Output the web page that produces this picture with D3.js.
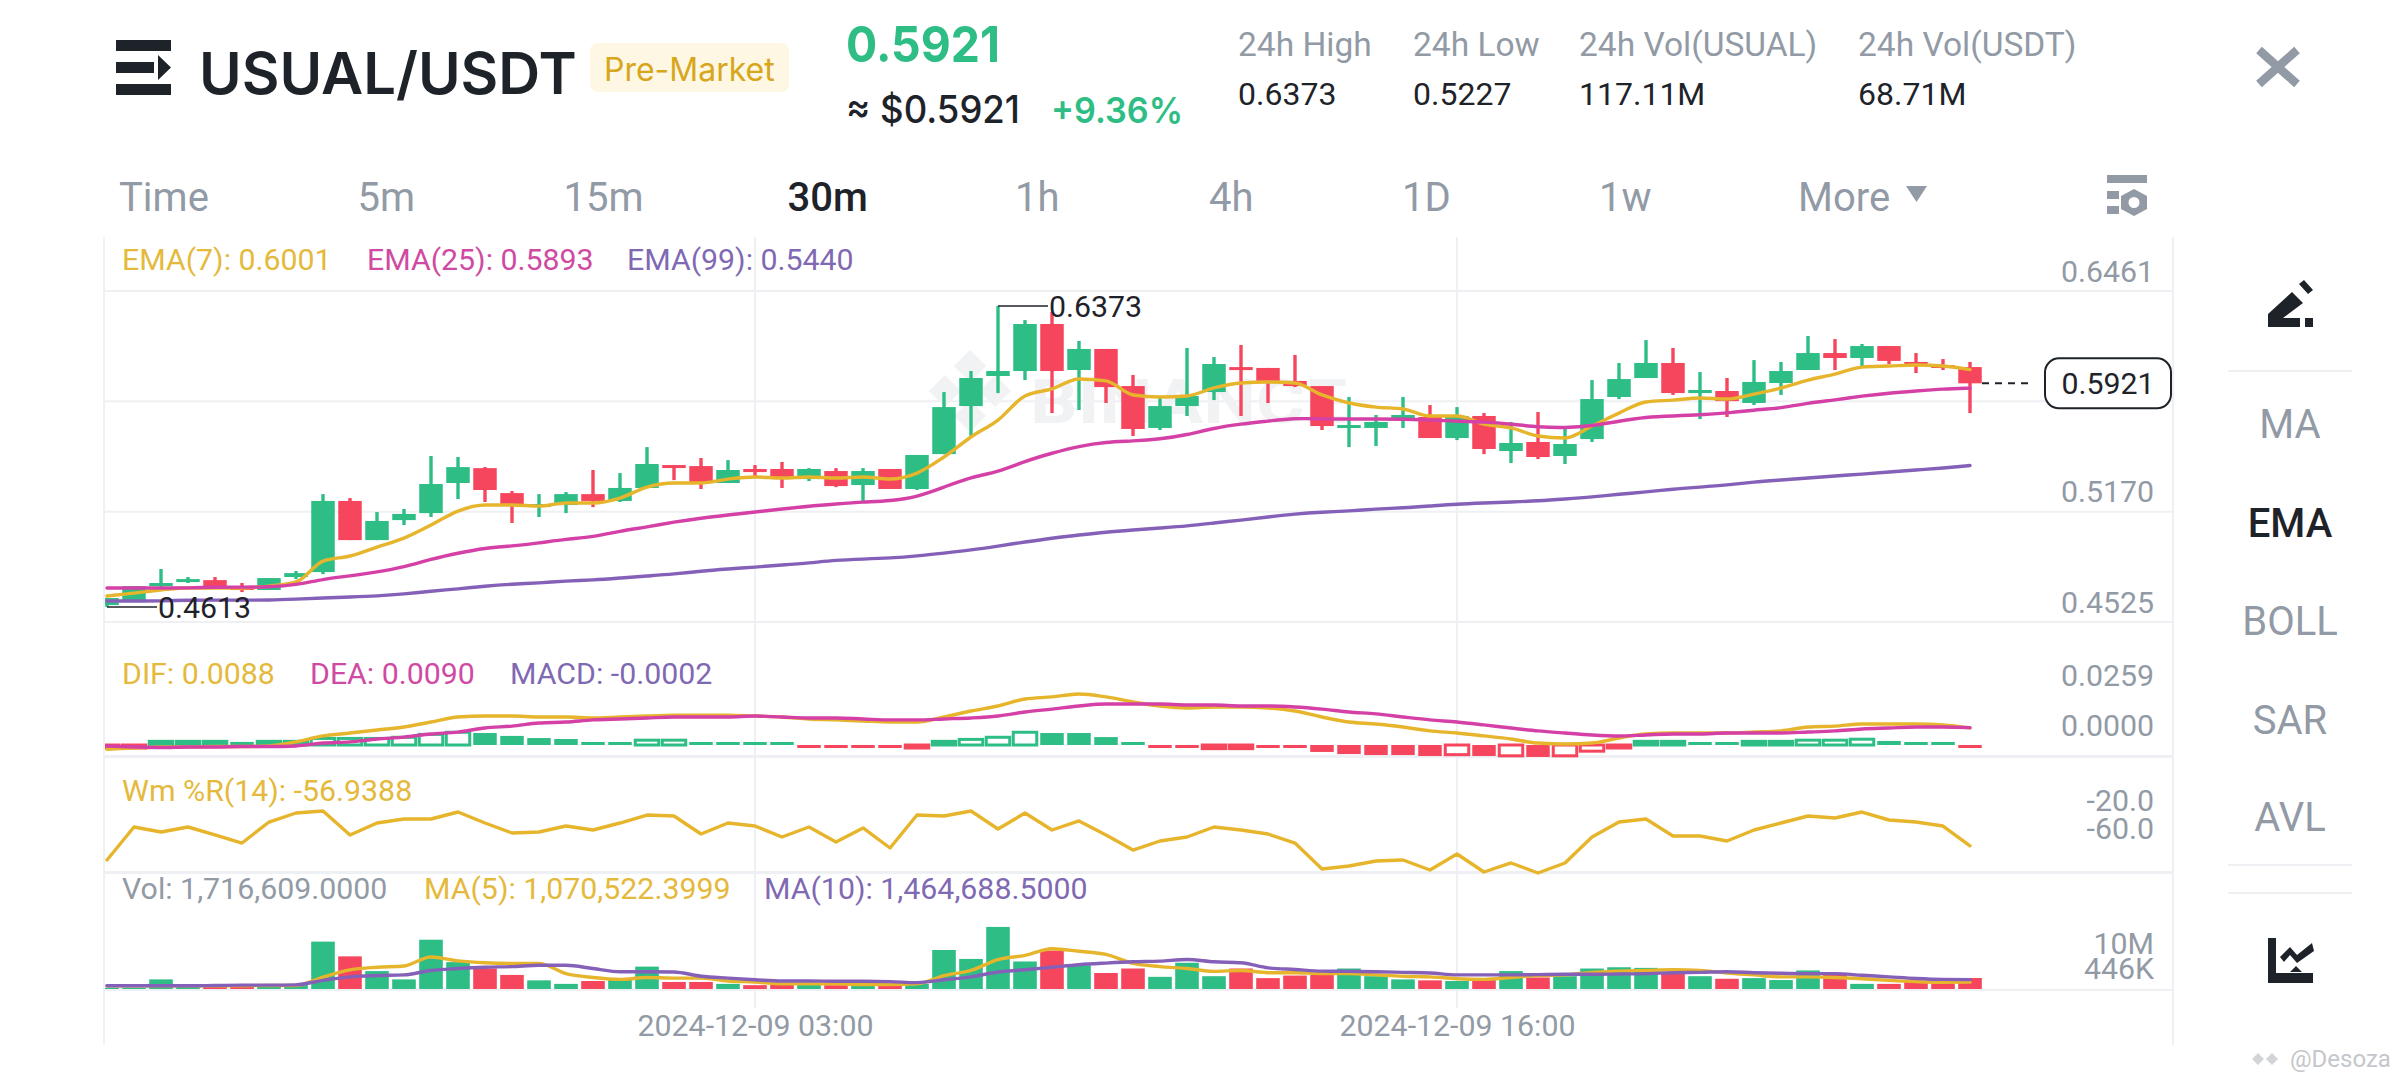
<!DOCTYPE html>
<html>
<head>
<meta charset="utf-8">
<title>USUAL/USDT</title>
<script src="https://cdn.jsdelivr.net/npm/d3@7/dist/d3.min.js"></script>
<style>
  html, body { margin: 0; padding: 0; background: #fff; }
  svg { display: block; }
  text { font-family: Roboto, "Noto Sans", sans-serif; }
  .plex { font-family: Inter, Roboto, sans-serif; }
</style>
</head>
<body>
<svg id="chart" width="2400" height="1080"></svg>
<script>
// 30-minute candles, oldest first
const open  = [.4624,.4653,.4735,.4759,.4770,.4735,.4712,.4788,.4817,.5233,.5004,.5121,.5162,.5338,.5425,.5279,.5203,.5209,.5273,.5233,.5309,.5443,.5437,.5338,.5420,.5420,.5361,.5408,.5326,.5420,.5303,.5507,.5788,.5964,.5993,.6268,.5999,.6122,.5905,.5660,.5788,.5870,.6016,.6011,.5935,.5905,.5660,.5660,.5718,.5724,.5601,.5730,.5525,.5578,.5496,.5595,.5841,.5952,.6040,.5864,.5876,.5806,.5923,.5999,.6098,.6069,.6139,.6046,.6028,.6016];
const high  = [.4665,.4735,.4835,.4788,.4788,.4753,.4782,.4823,.5273,.5250,.5168,.5186,.5496,.5490,.5431,.5291,.5273,.5285,.5414,.5396,.5548,.5443,.5484,.5472,.5443,.5461,.5425,.5425,.5425,.5420,.5502,.5870,.5993,.6373,.6291,.6338,.6169,.6122,.5970,.5841,.6128,.6075,.6145,.6011,.6087,.5905,.5841,.5736,.5841,.5794,.5782,.5747,.5695,.5753,.5665,.5940,.6040,.6174,.6128,.5987,.5952,.6057,.6046,.6198,.6180,.6151,.6139,.6098,.6063,.6046];
const low   = [.4613,.4653,.4729,.4753,.4724,.4700,.4712,.4776,.4805,.5004,.5004,.5092,.5139,.5244,.5227,.5104,.5139,.5162,.5197,.5227,.5309,.5355,.5303,.5338,.5379,.5309,.5349,.5314,.5233,.5303,.5297,.5507,.5607,.5864,.5940,.5747,.5765,.5806,.5613,.5648,.5730,.5823,.5730,.5806,.5899,.5648,.5548,.5554,.5660,.5601,.5589,.5507,.5455,.5478,.5449,.5578,.5829,.5952,.5853,.5712,.5724,.5794,.5853,.5999,.5999,.6022,.6034,.5981,.5999,.5747];
const close = [.4665,.4735,.4753,.4776,.4735,.4712,.4782,.4811,.5233,.5004,.5116,.5157,.5332,.5431,.5297,.5215,.5215,.5273,.5233,.5309,.5449,.5431,.5344,.5414,.5402,.5361,.5420,.5320,.5408,.5303,.5502,.5782,.5952,.5993,.6268,.5993,.6122,.5899,.5654,.5788,.5847,.6034,.5999,.5935,.5905,.5671,.5677,.5695,.5736,.5601,.5730,.5537,.5572,.5490,.5566,.5829,.5946,.6040,.5864,.5882,.5817,.5929,.5993,.6098,.6069,.6139,.6052,.6028,.6016,.5921];

const ema7  = [.4677,.4694,.4712,.4724,.4724,.4724,.4735,.4759,.4881,.4911,.4963,.5016,.5092,.5174,.5209,.5209,.5203,.5221,.5221,.5250,.5314,.5338,.5338,.5361,.5373,.5367,.5373,.5367,.5373,.5361,.5396,.5490,.5607,.5706,.5847,.5888,.5946,.5935,.5853,.5841,.5847,.5894,.5923,.5929,.5923,.5853,.5806,.5782,.5771,.5730,.5730,.5683,.5660,.5613,.5601,.5671,.5747,.5812,.5823,.5835,.5829,.5858,.5894,.5940,.5975,.6016,.6022,.6028,.6022,.6001];
const ema25 = [.4724,.4724,.4724,.4724,.4729,.4729,.4729,.4741,.4776,.4794,.4817,.4846,.4893,.4928,.4958,.4969,.4987,.5010,.5022,.5057,.5080,.5110,.5133,.5151,.5168,.5186,.5203,.5215,.5227,.5233,.5256,.5314,.5373,.5402,.5466,.5513,.5554,.5578,.5583,.5595,.5619,.5660,.5683,.5700,.5718,.5712,.5712,.5712,.5712,.5706,.5700,.5695,.5683,.5665,.5660,.5671,.5700,.5724,.5730,.5736,.5747,.5765,.5776,.5806,.5823,.5847,.5864,.5876,.5888,.5893];
const ema99 = [.4648,.4648,.4648,.4653,.4653,.4653,.4653,.4659,.4665,.4671,.4677,.4688,.4706,.4718,.4735,.4747,.4753,.4765,.4770,.4782,.4794,.4805,.4823,.4835,.4846,.4858,.4870,.4887,.4893,.4899,.4911,.4928,.4946,.4969,.4993,.5016,.5034,.5051,.5063,.5075,.5086,.5104,.5121,.5139,.5157,.5168,.5174,.5186,.5192,.5203,.5215,.5221,.5227,.5233,.5244,.5256,.5273,.5285,.5303,.5314,.5326,.5344,.5355,.5367,.5379,.5390,.5402,.5414,.5425,.5440];

// MACD panel
const dif = [-.0022,-.0016,-.0010,-.0010,-.0008,-.0008,-.0005,.0016,.0047,.0062,.0078,.0093,.0119,.0145,.0150,.0150,.0145,.0145,.0140,.0145,.0150,.0155,.0155,.0155,.0150,.0145,.0135,.0130,.0124,.0119,.0119,.0145,.0176,.0202,.0238,.0249,.0264,.0249,.0223,.0202,.0192,.0197,.0197,.0192,.0176,.0145,.0119,.0109,.0093,.0073,.0062,.0047,.0031,.0010,.0005,.0010,.0036,.0057,.0062,.0062,.0062,.0067,.0073,.0093,.0098,.0109,.0109,.0109,.0104,.0088];
const dea = [-.0005,-.0010,-.0013,-.0010,-.0010,-.0008,-.0008,-.0005,.0010,.0016,.0031,.0041,.0057,.0067,.0088,.0098,.0114,.0119,.0130,.0135,.0140,.0145,.0145,.0145,.0150,.0145,.0140,.0140,.0135,.0130,.0130,.0135,.0140,.0150,.0171,.0186,.0202,.0212,.0212,.0212,.0207,.0207,.0202,.0202,.0197,.0186,.0171,.0161,.0145,.0130,.0119,.0104,.0088,.0073,.0062,.0052,.0047,.0052,.0057,.0057,.0062,.0062,.0062,.0067,.0073,.0083,.0088,.0093,.0093,.0090];
const macd = [-.0014,-.0014,.0019,.0019,.0019,.0016,.0019,.0019,.0034,.0034,.0034,.0040,.0055,.0066,.0062,.0047,.0036,.0031,.0005,.0005,.0025,.0025,.0005,.0005,.0005,.0005,-.0005,-.0005,-.0005,-.0005,-.0014,.0019,.0029,.0040,.0066,.0062,.0062,.0041,.0005,-.0005,-.0005,-.0019,-.0019,-.0005,-.0005,-.0036,-.0047,-.0052,-.0052,-.0057,-.0050,-.0057,-.0056,-.0062,-.0056,-.0032,-.0014,.0019,.0019,.0005,.0005,.0019,.0019,.0025,.0025,.0030,.0021,.0005,.0005,-.0002];
// Bars whose magnitude is growing are outlined instead of filled
const macdHollow = [0,1,2,3,4,6,7,8,9,10,11,12,13,20,21,30,31,32,33,34,41,42,50,52,54,55,56,57,58,61,62,63,64,65];

// Williams %R panel
const wmr = [-77.1,-30,-37.1,-30,-41.4,-52.9,-22.9,-10,-7.1,-41.4,-24.3,-18.6,-18.6,-8.6,-24.3,-38.6,-37.1,-28.6,-34.3,-24.3,-12.9,-14.3,-40,-24.3,-28.6,-44.3,-30,-51.4,-31.4,-60,-12.9,-14.3,-7.1,-32.9,-10,-34.3,-21.4,-41.4,-62.9,-50,-44.3,-30,-34.3,-40,-52.9,-90,-85.7,-78.6,-77.1,-91.4,-68.6,-94.3,-81.4,-95.7,-81.4,-44.3,-22.9,-18.6,-42.9,-42.9,-50,-34.3,-24.3,-14.3,-17.1,-8.6,-20,-22.9,-28.6,-56.9388];

// Volume panel, in millions of USUAL
const volumeM = [.2,.2,1.5,.3,.3,.6,.7,.7,7.4,5.1,2.8,1.5,7.7,4.2,3.2,2.2,1.35,.8,1.25,1.6,3.5,1.1,1.1,.8,.6,.8,.7,.6,.6,.6,.8,6.1,4.7,9.7,4.3,6.0,3.7,2.5,3.2,1.9,4.1,2.0,3.2,1.7,2.1,2.2,3.2,2.0,1.5,1.35,1.25,1.6,2.8,1.8,2.0,3.2,3.4,3.3,2.4,2.0,1.6,1.7,1.4,2.9,2.4,.8,.8,1.1,1.1,1.7166];
const volMA5  = [.5,.5,.5,.5,.5,.5,.55,.55,1.87,3.0,3.4,3.6,5.0,4.4,4.1,4.0,4.0,2.4,1.8,1.5,1.8,1.7,1.7,1.25,1.1,.8,.8,.8,.7,.7,.8,2.1,2.9,4.6,5.25,6.3,5.9,5.4,4.0,3.5,3.2,2.75,2.9,2.55,2.55,2.4,2.4,2.2,2.0,1.9,1.6,1.5,1.8,2.1,2.2,2.6,2.8,2.9,3.0,2.9,2.5,2.2,1.9,1.9,1.8,1.6,1.35,1.15,1.04,1.0705];
const volMA10 = [.5,.5,.5,.5,.55,.6,.6,.65,1.35,1.9,2.1,2.2,2.9,3.2,3.4,3.5,3.7,3.7,3.2,2.7,2.7,2.65,2.0,1.7,1.45,1.25,1.25,1.2,1.2,1.15,1.0,1.45,1.9,2.65,3.0,3.4,3.8,4.05,4.25,4.35,4.6,4.25,4.1,3.3,3.05,2.8,2.75,2.7,2.6,2.5,2.2,2.2,2.2,2.25,2.3,2.3,2.35,2.4,2.55,2.6,2.7,2.55,2.45,2.4,2.4,2.15,1.9,1.65,1.5,1.4647];

// Axis labels and annotations
const priceTicks = [.6461,.5816,.5170,.4525];
const macdTicks = [.0259,0];
const wmrTicks = [-20,-60];
const volumeTickLabels = ["10M","446K"];
const timeTickIndex = [24,50];
const timeTickLabels = ["2024-12-09 03:00","2024-12-09 16:00"];
const lastPrice = .5921, dayHigh = .6373, dayLow = .4613;
const intervals = ["Time","5m","15m","30m","1h","4h","1D","1w","More"];
const overlays = ["MA","EMA","BOLL","SAR","AVL"];
const stats = [["24h High","0.6373"],["24h Low","0.5227"],["24h Vol(USUAL)","117.11M"],["24h Vol(USDT)","68.71M"]];

const GREEN = "#2ebd85", RED = "#f6465d", GREY = "#929aa5", DARK = "#1e2329", LINE = "#eef0f3";
const YELLOW = "#e6b52c", PINK = "#d440a6", PURPLE = "#8560b8";
const YELLOW_T = "#e4b93c", PINK_T = "#cf4aa3", PURPLE_T = "#7f69b3";
const CHART_FONT = 30.3;

const svg = d3.select("#chart");
svg.append("rect").attr("width",2400).attr("height",1080).attr("fill","#fff");

const n = close.length;
const x = d3.scaleLinear().domain([0,n-1]).range([107,1970]);
const yPrice = d3.scaleLinear().domain([.4525,.6461]).range([622,291]);
const yMacd = d3.scaleLinear().domain([0,.0259]).range([745,695]);
const yWmr = d3.scaleLinear().domain([-60,-20]).range([848,820]);
const yVol = d3.scaleLinear().domain([0,10]).range([989,925]);
const index = d3.range(n);
const up = i => close[i] >= open[i];
const colour = i => up(i) ? GREEN : RED;

function text(parent, s, px, py, size, fill, opts = {}) {
  return parent.append("text").attr("x",px).attr("y",py).attr("font-size",size).attr("fill",fill)
    .attr("font-weight",opts.weight || 400).attr("text-anchor",opts.anchor || "start")
    .attr("class",opts.cls || null).text(s);
}
const squeeze = (sel, w) => sel.attr("textLength",w).attr("lengthAdjust","spacingAndGlyphs");

/* ---------- header ---------- */
const head = svg.append("g");
head.append("path").attr("fill",DARK).attr("d","M116 40H171V51H116ZM116 84H171V95H116ZM116 62H154V73H116ZM158 55L171 67.500L158 80Z");
text(head,"USUAL/USDT",199,94,58,DARK,{weight:600,cls:"plex"});
head.append("rect").attr("x",590).attr("y",43).attr("width",199).attr("height",49).attr("rx",8).attr("fill","#fdf7e3");
text(head,"Pre-Market",604,81,32,"#d8a61b",{cls:"plex"});
squeeze(text(head,lastPrice.toFixed(4),846,62,50,GREEN,{weight:700,cls:"plex"}),154);
squeeze(text(head,"≈ $"+lastPrice.toFixed(4),846,123,38,DARK,{weight:500,cls:"plex"}),174);
squeeze(text(head,"+9.36%",1051,123,36,GREEN,{weight:600,cls:"plex"}),132);
const statX = [1238,1413,1579,1858];
stats.forEach((s,i) => {
  text(head,s[0],statX[i],56,33.500,GREY);
  text(head,s[1],statX[i],105,32,DARK);
});
head.append("path").attr("fill","none").attr("stroke",GREY).attr("stroke-width",8.500).attr("d","M2259 50L2297 84M2297 50L2259 84");

/* ---------- interval tabs ---------- */
const tabX = [119,357.500,563.500,787.500,1015,1209,1402,1599,1798];
intervals.forEach((t,i) => {
  text(head,t,tabX[i],211,40,t==="30m"?DARK:GREY,{weight:t==="30m"?500:400});
});
head.append("path").attr("fill",GREY).attr("d","M1906 186H1927L1916.500 202Z");
head.append("path").attr("fill",GREY).attr("d","M2107 175H2147V183H2107ZM2107 191H2119V199H2107ZM2107 206H2119V214H2107ZM2134 189L2147 196V209L2134 216L2121 209V196ZM2134 197A5.500 5.500 0 1 0 2134 208A5.500 5.500 0 1 0 2134 197Z").attr("fill-rule","evenodd");

/* ---------- frame and grid ---------- */
const frame = svg.append("g");
frame.selectAll(".hgrid").data(priceTicks).join("line")
  .attr("x1",104).attr("x2",2173).attr("y1",d=>yPrice(d)).attr("y2",d=>yPrice(d))
  .attr("stroke",LINE).attr("stroke-width",2);
frame.selectAll(".vgrid").data(timeTickIndex).join("line")
  .attr("x1",d=>x(d)).attr("x2",d=>x(d)).attr("y1",237).attr("y2",1008)
  .attr("stroke",LINE).attr("stroke-width",2);
[756.5,872.5].forEach(y => frame.append("line").attr("x1",104).attr("x2",2173).attr("y1",y).attr("y2",y).attr("stroke",LINE).attr("stroke-width",3));
frame.append("line").attr("x1",104).attr("x2",2173).attr("y1",990).attr("y2",990).attr("stroke",LINE).attr("stroke-width",2);
frame.append("line").attr("x1",104).attr("x2",104).attr("y1",237).attr("y2",1045).attr("stroke",LINE).attr("stroke-width",2);
frame.append("line").attr("x1",2173).attr("x2",2173).attr("y1",237).attr("y2",1045).attr("stroke",LINE).attr("stroke-width",2);

/* ---------- faint exchange mark behind the candles ---------- */
const mark = svg.append("g").attr("fill","#f1f2f3");
mark.append("path").attr("fill-rule","evenodd").attr("d",
  "M970 350L986 366L970 382L954 366ZM945 375L961 391L945 407L929 391ZM995 375L1011 391L995 407L979 391ZM970 400L986 416L970 432L954 416Z");
squeeze(text(mark,"BINANCE",1030,423,62,"#f1f2f3",{weight:700}),317);

/* ---------- candles ---------- */
svg.append("clipPath").attr("id","plot").append("rect").attr("x",105).attr("y",237).attr("width",2068).attr("height",770);
const plot = svg.append("g").attr("clip-path","url(#plot)");
const candles = plot.append("g");
candles.selectAll(".wick").data(index).join("line")
  .attr("x1",x).attr("x2",x).attr("y1",i=>yPrice(high[i])).attr("y2",i=>yPrice(low[i]))
  .attr("stroke",colour).attr("stroke-width",3.400);
candles.selectAll(".body").data(index).join("rect")
  .attr("x",i=>x(i)-11.750).attr("width",23.500)
  .attr("y",i=>yPrice(Math.max(open[i],close[i])))
  .attr("height",i=>Math.max(3,Math.abs(yPrice(open[i])-yPrice(close[i]))))
  .attr("fill",colour);

function drawLine(values, y, stroke, curve) {
  plot.append("path").datum(values)
    .attr("fill","none").attr("stroke",stroke).attr("stroke-width",3.400)
    .attr("stroke-linejoin","round").attr("stroke-linecap","round")
    .attr("d",d3.line().x((d,i)=>x(i)).y(d=>y(d)).curve(curve || d3.curveMonotoneX));
}
drawLine(ema7,yPrice,YELLOW);
drawLine(ema25,yPrice,PINK,d3.curveBasis);
drawLine(ema99,yPrice,PURPLE,d3.curveBasis);

/* ---------- high / low markers ---------- */
const hiIdx = high.indexOf(dayHigh), loIdx = low.indexOf(dayLow);
plot.append("line").attr("x1",x(hiIdx)).attr("x2",x(hiIdx)+50).attr("y1",yPrice(dayHigh)).attr("y2",yPrice(dayHigh)).attr("stroke",DARK).attr("stroke-width",1.500);
text(plot,dayHigh.toFixed(4),x(hiIdx)+51,yPrice(dayHigh)+11,CHART_FONT,DARK);
plot.append("line").attr("x1",x(loIdx)).attr("x2",x(loIdx)+50).attr("y1",yPrice(dayLow)).attr("y2",yPrice(dayLow)).attr("stroke",DARK).attr("stroke-width",1.500);
text(plot,dayLow.toFixed(4),x(loIdx)+51,yPrice(dayLow)+11,CHART_FONT,DARK);

/* ---------- MACD ---------- */
const macdColour = i => macd[i] >= 0 ? GREEN : RED;
const macdSize = i => Math.abs(yMacd(macd[i])-yMacd(0));
const isOutlined = i => macdHollow.includes(i);
plot.append("g").selectAll("rect").data(index).join("rect")
  .attr("x",i=>x(i)-11.750).attr("width",23.500)
  .attr("y",i=>{
    const h = Math.max(3,macdSize(i));
    return macd[i] >= 0 ? yMacd(0)-h : yMacd(0);
  })
  .attr("height",i=>Math.max(3,macdSize(i)))
  .attr("fill",i=> isOutlined(i) && macdSize(i) > 4.500 ? "#fff" : macdColour(i))
  .attr("stroke",i=> isOutlined(i) ? macdColour(i) : "none")
  .attr("stroke-width",3);
drawLine(dif,yMacd,YELLOW);
drawLine(dea,yMacd,PINK);

/* ---------- Williams %R ---------- */
drawLine(wmr,yWmr,YELLOW,d3.curveLinear);

/* ---------- volume ---------- */
plot.append("g").selectAll("rect").data(index).join("rect")
  .attr("x",i=>x(i)-11.800).attr("width",23.600)
  .attr("y",i=>yVol(volumeM[i])).attr("height",i=>yVol(0)-yVol(volumeM[i]))
  .attr("fill",colour);
drawLine(volMA5,yVol,YELLOW);
drawLine(volMA10,yVol,PURPLE);

/* ---------- right-hand axes, labels sit above their level ---------- */
function rightAxis(scale, ticks, decimals) {
  const g = svg.append("g").attr("transform","translate(2154,0)")
    .call(d3.axisRight(scale).tickValues(ticks).tickFormat(d=>d.toFixed(decimals)).tickSize(0).tickPadding(0));
  g.select(".domain").remove();
  g.selectAll("text").attr("font-size",CHART_FONT).attr("font-family","Roboto").attr("fill",GREY)
    .attr("text-anchor","end").attr("dy","-10px");
  return g;
}
rightAxis(yPrice,priceTicks,4);
rightAxis(yMacd,macdTicks,4);
rightAxis(yWmr,wmrTicks,1);
[943,968].forEach((y,i)=>text(svg,volumeTickLabels[i],2154,y+11,CHART_FONT,GREY,{anchor:"end"}));

const timeAxis = svg.append("g").attr("transform","translate(0,1014)")
  .call(d3.axisBottom(x).tickValues(timeTickIndex).tickFormat((d,i)=>timeTickLabels[i]).tickSize(0).tickPadding(0));
timeAxis.select(".domain").remove();
timeAxis.selectAll("text").attr("font-size",CHART_FONT).attr("font-family","Roboto").attr("fill",GREY).attr("dy","22px");

/* ---------- last price tag ---------- */
const yLast = yPrice(lastPrice);
svg.append("line").attr("x1",1982).attr("x2",2030).attr("y1",yLast).attr("y2",yLast)
  .attr("stroke",DARK).attr("stroke-width",2).attr("stroke-dasharray","7 6");
svg.append("rect").attr("x",2045).attr("y",yLast-25).attr("width",126).attr("height",50).attr("rx",14)
  .attr("fill","#fff").attr("fill-opacity",.94).attr("stroke",DARK).attr("stroke-width",2);
text(svg,lastPrice.toFixed(4),2108,yLast+11,CHART_FONT,DARK,{anchor:"middle"});

/* ---------- indicator legends ---------- */
const legends = [
  [[122,"EMA(7): 0.6001",YELLOW_T],[367,"EMA(25): 0.5893",PINK_T],[627,"EMA(99): 0.5440",PURPLE_T]],
  [[122,"DIF: 0.0088",YELLOW_T],[310,"DEA: 0.0090",PINK_T],[510,"MACD: -0.0002",PURPLE_T]],
  [[122,"Wm %R(14): -56.9388",YELLOW_T]],
  [[122,"Vol: 1,716,609.0000",GREY],[424,"MA(5): 1,070,522.3999",YELLOW_T],[764,"MA(10): 1,464,688.5000",PURPLE_T]]
];
const legendY = [270,684,801,899];
legends.forEach((row,r)=>row.forEach(l=>text(svg,l[1],l[0],legendY[r],CHART_FONT,l[2])));

/* ---------- side toolbar ---------- */
const side = svg.append("g");
side.append("path").attr("fill",DARK).attr("d",
  "M2268 314L2292 292L2303 303L2283 318H2300V327H2268ZM2299 284L2304 280L2313 290L2308 294ZM2305 318H2313V327H2305Z");
const sideY = [424,523,621,720,817];
overlays.forEach((o,i)=>text(side,o,2290,sideY[i]+14,40,o==="EMA"?DARK:GREY,{anchor:"middle",weight:o==="EMA"?500:400}));
[371,865,893].forEach(y=>side.append("line").attr("x1",2228).attr("x2",2352).attr("y1",y).attr("y2",y).attr("stroke",LINE).attr("stroke-width",2));
side.append("path").attr("fill",DARK).attr("d",
  "M2268 938H2276V973H2313V983H2268ZM2280 957L2290 947L2297 955L2312 943L2314 951L2297 963L2290 955L2284 962ZM2290 972L2296 966L2302 972Z");

/* ---------- credit, lower right ---------- */
svg.append("path").attr("fill","#d2d4d8").attr("d","M2258 1053L2264 1059L2258 1065L2252 1059ZM2272 1053L2278 1059L2272 1065L2266 1059Z");
text(svg,"@Desoza",2290,1067,24,"#c4c7cb");
</script>
</body>
</html>
